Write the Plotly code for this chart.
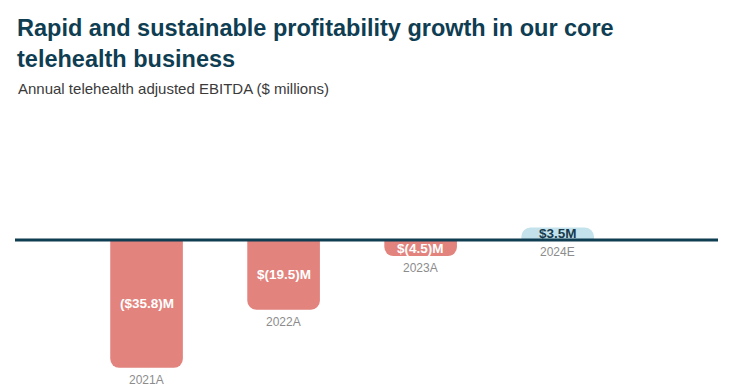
import plotly.graph_objects as go

categories = ["2021A", "2022A", "2023A", "2024E"]
ebitda = [-35.8, -19.5, -4.5, 3.5]
bar_labels = ["($35.8)M", "$(19.5)M", "$(4.5)M", "$3.5M"]

NAVY = "#0f3d52"
RED = "#e2837d"
BLUE = "#c4e2ec"
colors = [RED if v < 0 else BLUE for v in ebitda]
text_colors = ["white" if v < 0 else "#163a4c" for v in ebitda]

fig = go.Figure()
fig.add_trace(go.Bar(
    x=categories, y=ebitda, marker=dict(color=colors, line=dict(width=0)),
    width=0.53, hoverinfo="skip",
))

for c, v, lab, tc in zip(categories, ebitda, bar_labels, text_colors):
    fig.add_annotation(x=c, y=v / 2, text=f"<b>{lab}</b>", showarrow=False,
                       font=dict(family="Liberation Sans", size=13.5, color=tc),
                       yanchor="middle")
    fig.add_annotation(x=c, y=min(v, 0), text=c, showarrow=False,
                       font=dict(family="Liberation Sans", size=12, color="#8c8c8c"),
                       yanchor="top", yshift=-3)

fig.add_shape(type="line", xref="paper", x0=0, x1=1, yref="y", y0=0, y1=0,
              line=dict(color=NAVY, width=3), layer="above")

fig.add_annotation(xref="paper", yref="paper", x=0, y=1, xanchor="left", yanchor="middle",
                   yshift=57, align="left", showarrow=False,
                   text="<b>Rapid and sustainable profitability growth in our core<br>telehealth business</b>",
                   font=dict(family="Liberation Sans", size=23.5, color=NAVY))
fig.add_annotation(xref="paper", yref="paper", x=0, y=1, xanchor="left", yanchor="middle",
                   xshift=1, yshift=12, align="left", showarrow=False,
                   text="Annual telehealth adjusted EBITDA ($ millions)",
                   font=dict(family="Liberation Sans", size=15, color="#3a3a3a"))

fig.update_layout(
    width=740, height=390,
    margin=dict(l=15, r=22, t=100, b=10),
    paper_bgcolor="white", plot_bgcolor="white",
    showlegend=False, barcornerradius=9,
    xaxis=dict(range=[-0.96, 4.17], showticklabels=False, showgrid=False,
               zeroline=False, showline=False, fixedrange=True),
    yaxis=dict(range=[-39.2, 39.2], showticklabels=False, showgrid=False,
               zeroline=False, showline=False, fixedrange=True),
)

fig.write_html("out.html", config={"displayModeBar": False},
               post_script="document.body.style.margin='0';")
